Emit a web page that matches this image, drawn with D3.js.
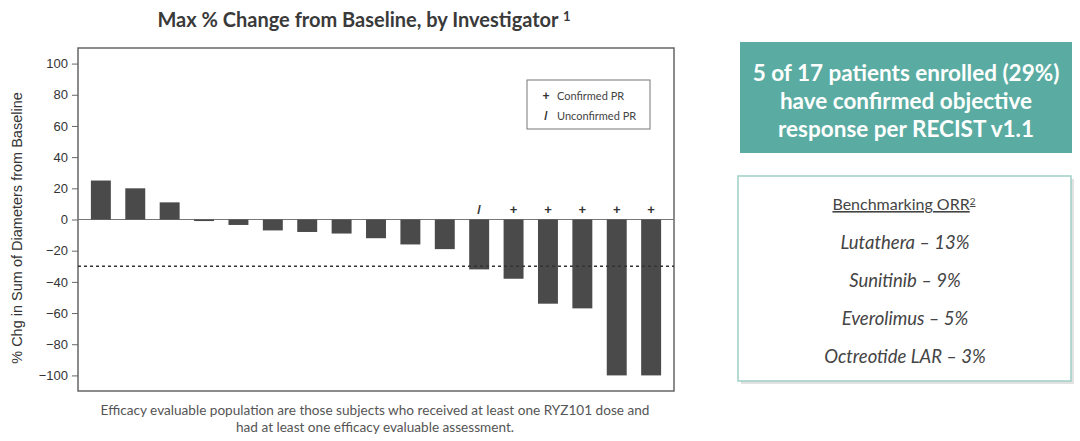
<!DOCTYPE html>
<html>
<head>
<meta charset="utf-8">
<script src="https://cdn.jsdelivr.net/npm/d3@7"></script>
<style>
  body { margin: 0; background: #fff; }
  svg { display: block; }
</style>
</head>
<body>
<div id="chart"></div>
<script>
// data
const patients = d3.range(1, 18).map(d => "P" + d);
const maxChange = [25, 20, 11, -1, -3.5, -7, -8, -9, -12, -16, -19, -32, -38, -54, -57, -100, -100];
const responseMark = ["", "", "", "", "", "", "", "", "", "", "", "/", "+", "+", "+", "+", "+"];
const yTicks = [100, 80, 60, 40, 20, 0, -20, -40, -60, -80, -100];
const threshold = -30;
const legendItems = [["+", "Confirmed PR"], ["/", "Unconfirmed PR"]];
const headlineLines = ["5 of 17 patients enrolled (29%)", "have confirmed objective", "response per RECIST v1.1"];
const benchmarks = ["Lutathera \u2013 13%", "Sunitinib \u2013 9%", "Everolimus \u2013 5%", "Octreotide LAR \u2013 3%"];
const captionLines = ["Efficacy evaluable population are those subjects who received at least one RYZ101 dose and",
                      "had at least one efficacy evaluable assessment."];

const width = 1080, height = 441;
const svg = d3.select("#chart").append("svg")
    .attr("width", width)
    .attr("height", height);

const frame = {left: 78, right: 674, top: 48, bottom: 391};

const x = d3.scaleBand()
    .domain(patients)
    .range([frame.left, frame.right])
    .paddingInner(0.42)
    .paddingOuter(0.375);

const y = d3.scaleLinear()
    .domain([-110, 110])
    .range([frame.bottom, frame.top]);

// title
svg.append("text")
    .attr("x", 364).attr("y", 27)
    .attr("text-anchor", "middle")
    .style("font-family", "Lato, 'Open Sans', sans-serif")
    .style("font-size", "20px")
    .style("font-weight", "bold")
    .attr("fill", "#3a3a3a")
    .text("Max % Change from Baseline, by Investigator ")
    .append("tspan")
    .attr("dy", -6)
    .style("font-size", "13px")
    .text("1");

// plot frame
svg.append("rect")
    .attr("x", frame.left).attr("y", frame.top)
    .attr("width", frame.right - frame.left)
    .attr("height", frame.bottom - frame.top)
    .attr("fill", "none")
    .attr("stroke", "#666")
    .attr("stroke-width", 1.5);

// y axis
const yAxis = svg.append("g")
    .attr("transform", `translate(${frame.left},0)`)
    .call(d3.axisLeft(y).tickValues(yTicks).tickSize(6).tickPadding(4));
yAxis.select(".domain").remove();
yAxis.selectAll("line").attr("stroke", "#666");
yAxis.selectAll("text")
    .style("font-family", "'Liberation Sans', Arial, sans-serif")
    .style("font-size", "13px")
    .attr("fill", "#333");

svg.append("text")
    .attr("transform", `translate(22,228) rotate(-90)`)
    .attr("text-anchor", "middle")
    .style("font-family", "'Liberation Sans', Arial, sans-serif")
    .style("font-size", "14.5px")
    .attr("fill", "#333")
    .text("% Chg in Sum of Diameters from Baseline");

// zero line
svg.append("line")
    .attr("x1", frame.left).attr("x2", frame.right)
    .attr("y1", y(0)).attr("y2", y(0))
    .attr("stroke", "#777")
    .attr("stroke-width", 1);

// bars
svg.append("g")
    .selectAll("rect")
    .data(maxChange)
    .enter().append("rect")
    .attr("x", (d, i) => x(patients[i]))
    .attr("width", x.bandwidth())
    .attr("y", d => y(Math.max(0, d)))
    .attr("height", d => Math.abs(y(d) - y(0)))
    .attr("fill", "#4a4a4a");

// -30% threshold
svg.append("line")
    .attr("x1", frame.left).attr("x2", frame.right)
    .attr("y1", y(threshold)).attr("y2", y(threshold))
    .attr("stroke", "#333")
    .attr("stroke-width", 1.3)
    .attr("stroke-dasharray", "3,3");

// response markers
svg.append("g")
    .selectAll("text")
    .data(responseMark)
    .enter().append("text")
    .attr("x", (d, i) => x(patients[i]) + x.bandwidth() / 2)
    .attr("y", y(0) - 6)
    .attr("text-anchor", "middle")
    .style("font-family", "'Liberation Sans', Arial, sans-serif")
    .style("font-size", "13px")
    .style("font-weight", "bold")
    .attr("fill", "#333")
    .text(d => d);

// legend
const legend = svg.append("g").attr("transform", "translate(527,80)");
legend.append("rect")
    .attr("width", 123).attr("height", 49)
    .attr("fill", "#fff")
    .attr("stroke", "#777");
legendItems.forEach((item, i) => {
    legend.append("text")
        .attr("x", 19).attr("y", 20 + i * 20)
        .attr("text-anchor", "middle")
        .style("font-family", "'Liberation Sans', Arial, sans-serif")
        .style("font-size", "12px")
        .style("font-weight", "bold")
        .attr("fill", "#333")
        .text(item[0]);
    legend.append("text")
        .attr("x", 30).attr("y", 20 + i * 20)
        .style("font-family", "Lato, sans-serif")
        .style("font-size", "11px")
        .attr("fill", "#444")
        .text(item[1]);
});

// headline box
svg.append("rect")
    .attr("x", 740).attr("y", 42)
    .attr("width", 332).attr("height", 111)
    .attr("fill", "#5aaca2");
headlineLines.forEach((t, i) => {
    svg.append("text")
        .attr("x", 906).attr("y", 81 + i * 28)
        .attr("text-anchor", "middle")
        .style("font-family", "Lato, 'Open Sans', sans-serif")
        .style("font-size", "22.5px")
        .style("font-weight", "bold")
        .attr("fill", "#fff")
        .text(t);
});

// benchmark box
svg.append("rect")
    .attr("x", 741).attr("y", 179)
    .attr("width", 333).attr("height", 205)
    .attr("fill", "#e2e2e2");
svg.append("rect")
    .attr("x", 738).attr("y", 176)
    .attr("width", 333).attr("height", 205)
    .attr("fill", "#fff")
    .attr("stroke", "#9fcfc6")
    .attr("stroke-width", 1.5);

const bmTitle = svg.append("text")
    .attr("x", 904).attr("y", 210)
    .attr("text-anchor", "middle")
    .style("font-family", "Lato, 'Open Sans', sans-serif")
    .style("font-size", "16px")
    .style("text-decoration", "underline")
    .attr("fill", "#444")
    .text("Benchmarking ORR");
bmTitle.append("tspan")
    .attr("dy", -5)
    .style("font-size", "10px")
    .text("2");

benchmarks.forEach((t, i) => {
    svg.append("text")
        .attr("x", 905).attr("y", 249 + i * 38)
        .attr("text-anchor", "middle")
        .style("font-family", "Lato, 'Open Sans', sans-serif")
        .style("font-size", "18.5px")
        .style("font-style", "italic")
        .attr("fill", "#444")
        .text(t);
});

// caption
captionLines.forEach((t, i) => {
    svg.append("text")
        .attr("x", 375).attr("y", 415 + i * 17)
        .attr("text-anchor", "middle")
        .style("font-family", "Lato, 'Open Sans', sans-serif")
        .style("font-size", "13.6px")
        .attr("fill", "#555")
        .text(t);
});
</script>
</body>
</html>
